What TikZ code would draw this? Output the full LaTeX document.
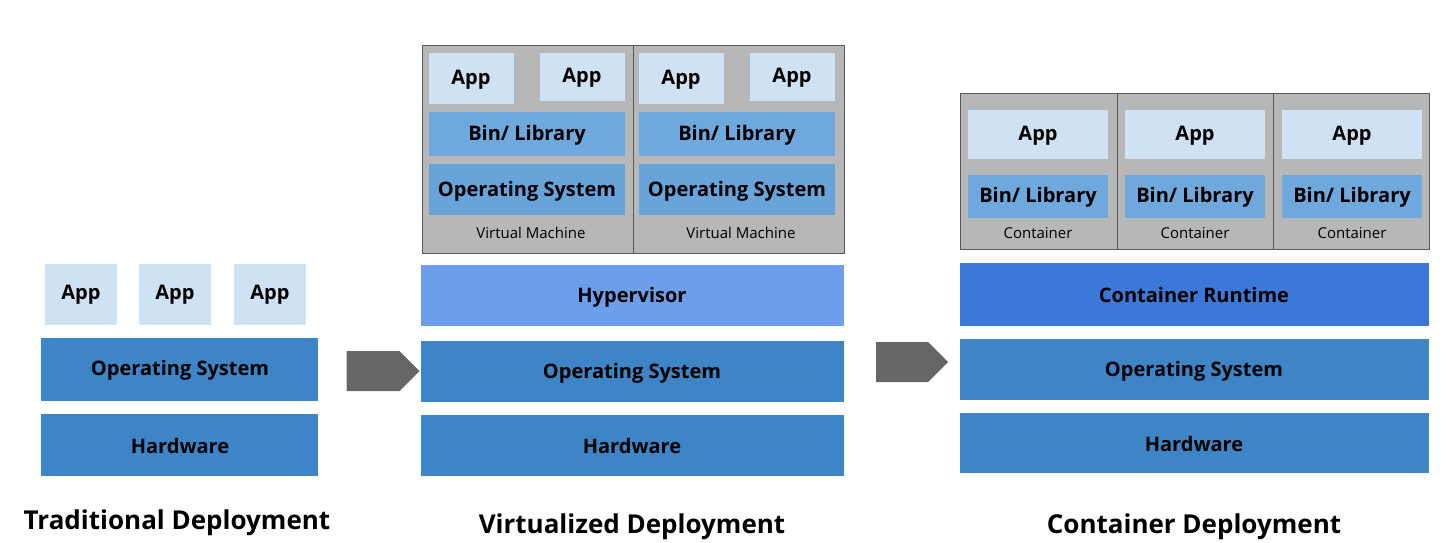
\documentclass[tikz,border=0pt]{standalone}
\usepackage{fontspec}
\setmainfont{Open Sans}
\usetikzlibrary{shapes.arrows}
\definecolor{appc}{HTML}{CFE2F3}
\definecolor{osc}{HTML}{3D85C6}
\definecolor{binc}{HTML}{6FA8DC}
\definecolor{hypc}{HTML}{6D9EEB}
\definecolor{rtc}{HTML}{3C78D8}
\definecolor{grayc}{HTML}{B7B7B7}
\definecolor{arrc}{HTML}{666666}
\begin{document}
\begin{tikzpicture}[x=1pt,y=-1pt,
 lbl/.style={font=\fontsize{20}{22}\selectfont\bfseries},
 box/.style={draw=none},
 ttl/.style={font=\fontsize{26}{28}\selectfont\bfseries},
 small/.style={font=\fontsize{15}{17}\selectfont},
 arr/.style={single arrow, fill=arrc, minimum height=73pt, minimum width=40pt, single arrow head extend=0pt, inner sep=0pt, shape border rotate=0}]
\useasboundingbox (0,0) rectangle (1449,542);
\newcommand{\bx}[6]{\fill[#5] (#1,#2) rectangle (#3,#4); \node[lbl] (#6) at ({(#1+#3)/2},{(#2+#4)/2}) {\strut};}
% Traditional
\foreach \x/\n in {45/a1,139/a2,234/a3}{\fill[appc] (\x,264) rectangle (\x+72,325); \node[lbl] (t\n) at (\x+36,295) {App};}
\fill[osc] (41,338) rectangle (318,401); \node[lbl] (tos) at (180,370) {Operating System};
\fill[osc] (41,414) rectangle (318,476); \node[lbl] (thw) at (180,446) {Hardware};
\node[ttl] (tt) at (177,523) {Traditional Deployment};
\node[arr, minimum height=73pt] (ar1) at (373,371) {};
% Virtualized
\fill[grayc] (422,45) rectangle (844,253);
\draw[gray!70!black, line width=0.6pt] (422,45) rectangle (844,253) (633,45) -- (633,253);
\foreach \o/\v in {0/1,210/2}{
 \fill[appc] (429+\o,53) rectangle (514+\o,104); \node[lbl] (va\v) at (471+\o,80) {App};
 \fill[appc] (540+\o,53) rectangle (625+\o,101); \node[lbl] (vb\v) at (582+\o,78) {App};
 \fill[binc] (429+\o,112) rectangle (625+\o,156); \node[lbl] (vl\v) at (527+\o,135) {Bin/ Library};
 \fill[binc!85!osc] (429+\o,164) rectangle (625+\o,215); \node[lbl] (vo\v) at (527+\o,191) {Operating System};
 \node[small] (vm\v) at (531+\o,233) {Virtual Machine};
}
\fill[hypc] (421,265) rectangle (844,326); \node[lbl] (vh) at (632,297) {Hypervisor};
\fill[osc] (421,341) rectangle (844,402); \node[lbl] (vos) at (632,373) {Operating System};
\fill[osc] (421,415) rectangle (844,476); \node[lbl] (vhw) at (632,446) {Hardware};
\node[ttl] (vt) at (632,527) {Virtualized Deployment};
\node[arr, minimum height=72pt] (ar2) at (902,362) {};
% Container
\fill[grayc] (960,93) rectangle (1429,249);
\draw[gray!70!black, line width=0.6pt] (960,93) rectangle (1429,249) (1117,93) -- (1117,249) (1273,93) -- (1273,249);
\foreach \x/\v in {968/1,1125/2,1282/3}{
 \fill[appc] (\x,110) rectangle (\x+140,159); \node[lbl] (ca\v) at (\x+70,136) {App};
 \fill[binc] (\x,175) rectangle (\x+140,218); \node[lbl] (cl\v) at (\x+70,197) {Bin/ Library};
 \node[small] (cc\v) at (\x+70,233) {Container};
}
\fill[rtc] (960,263) rectangle (1429,326); \node[lbl] (crt) at (1194,295) {Container Runtime};
\fill[osc] (960,339) rectangle (1429,400); \node[lbl] (cos) at (1194,371) {Operating System};
\fill[osc] (960,413) rectangle (1429,473); \node[lbl] (chw) at (1194,444) {Hardware};
\node[ttl] (ct) at (1194,527) {Container Deployment};
\end{tikzpicture}
\end{document}
